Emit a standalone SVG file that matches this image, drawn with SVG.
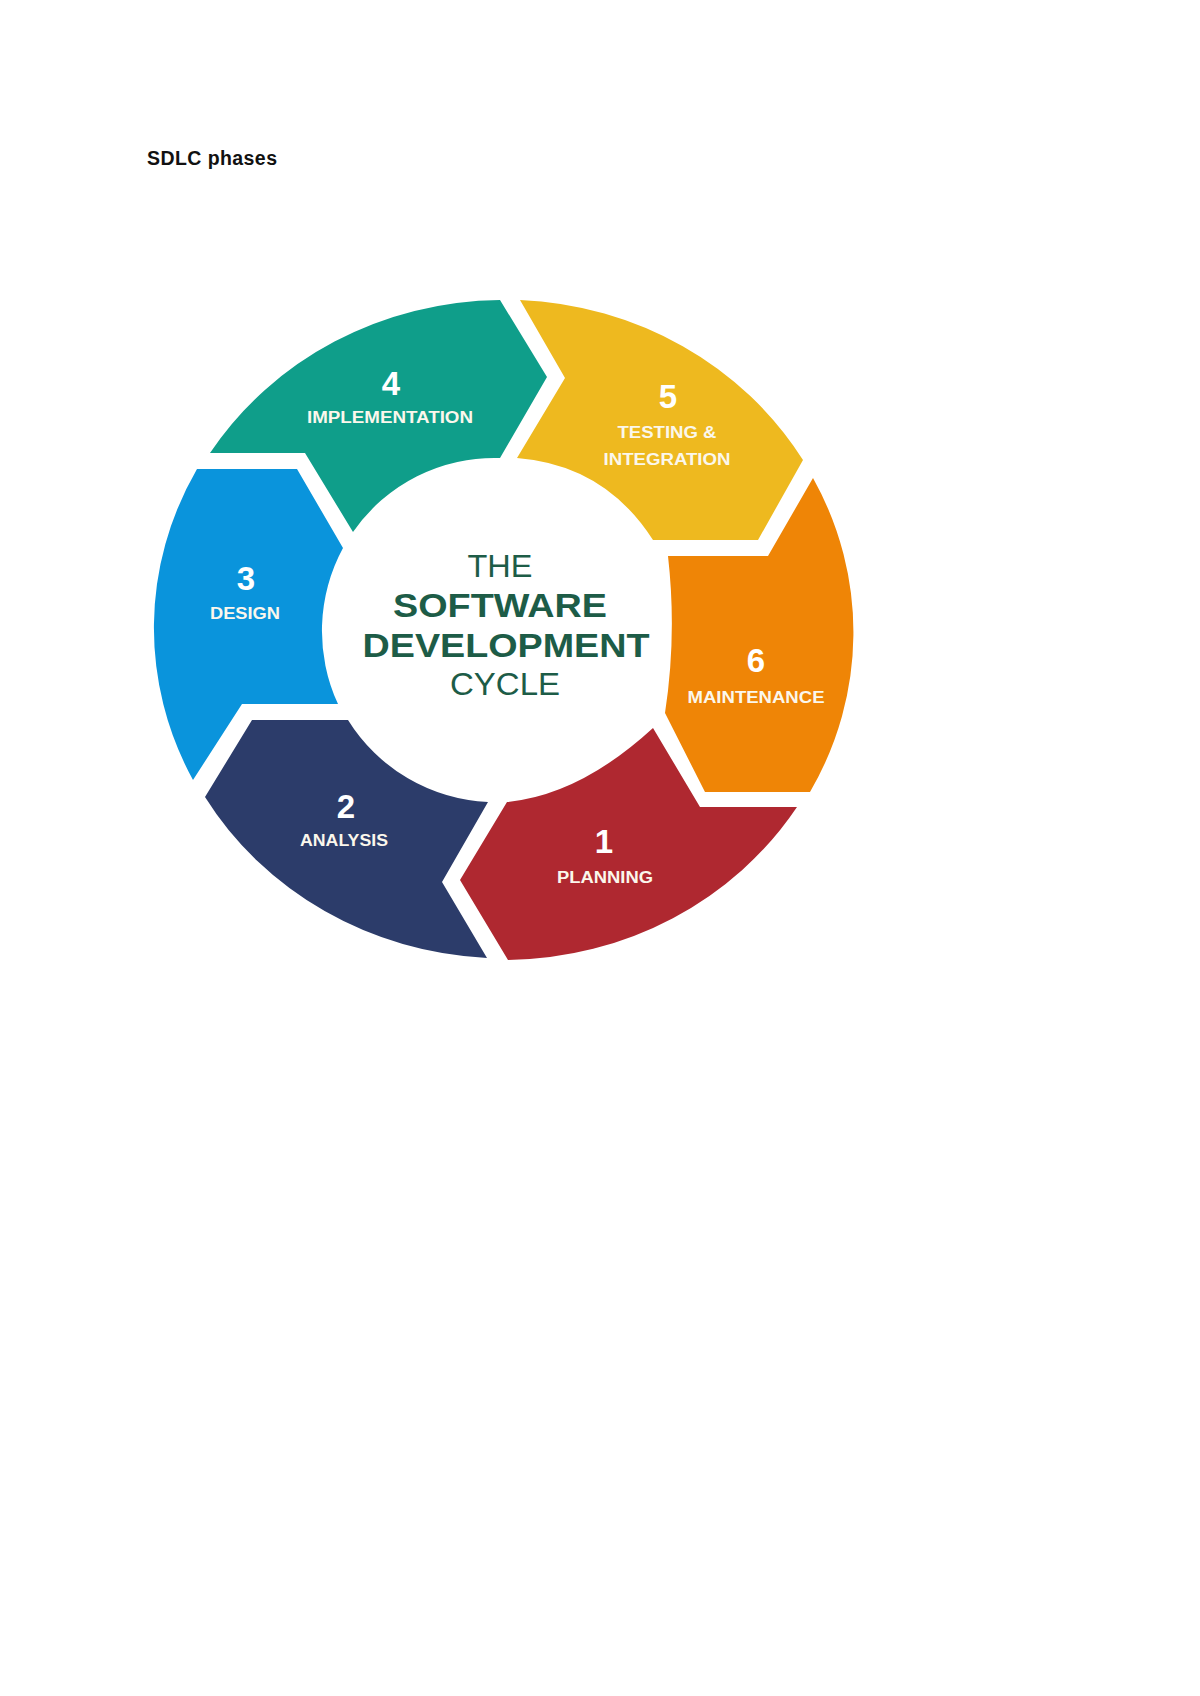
<svg xmlns="http://www.w3.org/2000/svg" width="1200" height="1696" viewBox="0 0 1200 1696">
<style>
.num{font-family:"Liberation Sans",Arial,sans-serif;font-weight:bold;font-size:33px;fill:#ffffff;text-anchor:middle}
.lbl{font-family:"Liberation Sans",Arial,sans-serif;font-weight:bold;font-size:16px;fill:#fbf7ec;text-anchor:middle}
.ctr{font-family:"Liberation Sans",Arial,sans-serif;fill:#1d5c47;text-anchor:middle}
</style>
<rect width="1200" height="1696" fill="#ffffff"/>
<text x="147" y="165" font-family="Liberation Sans, Arial, sans-serif" font-weight="bold" font-size="19.5" fill="#111111" textLength="130" lengthAdjust="spacing">SDLC phases</text>

<g id="node-planning">
<path d="M797,807 A348,330 0 0,1 508,960 L460,880 L507,802 Q580,795 653,728 L700,807 Z" fill="#af2830"/>
<text class="num" x="604" y="853">1</text>
<text class="lbl" x="605" y="883" textLength="96" lengthAdjust="spacingAndGlyphs">PLANNING</text>
</g>
<g id="node-analysis">
<path d="M487,958 A348,330 0 0,1 205,797 L252,720 L348,720 A174,174 0 0,0 488,802 L442,882 Z" fill="#2c3c6a"/>
<text class="num" x="346" y="818">2</text>
<text class="lbl" x="344" y="846" textLength="88" lengthAdjust="spacingAndGlyphs">ANALYSIS</text>
</g>
<g id="node-design">
<path d="M193,780 A348,330 0 0,1 197,469 L297,469 L343,548 A174,174 0 0,0 338,704 L242,704 Z" fill="#0a94dc"/>
<text class="num" x="246" y="590">3</text>
<text class="lbl" x="245" y="619" textLength="70" lengthAdjust="spacingAndGlyphs">DESIGN</text>
</g>
<g id="node-implementation">
<path d="M210,453 A348,330 0 0,1 500,300 L547,377 L500,458 A172,172 0 0,0 353,532 L305,453 Z" fill="#0f9e8a"/>
<text class="num" x="391" y="395">4</text>
<text class="lbl" x="390" y="423" textLength="166" lengthAdjust="spacingAndGlyphs">IMPLEMENTATION</text>
</g>
<g id="node-testing">
<path d="M520,300 A348,330 0 0,1 803,460 L758,540 L653,540 Q605,465 517,458 L565,378 Z" fill="#eeb91f"/>
<text class="num" x="668" y="408">5</text>
<text class="lbl" x="667" y="438" textLength="99" lengthAdjust="spacingAndGlyphs">TESTING &amp;</text>
<text class="lbl" x="667" y="465" textLength="127" lengthAdjust="spacingAndGlyphs">INTEGRATION</text>
</g>
<g id="node-maintenance">
<path d="M813,478 A348,330 0 0,1 810,792 L705,792 L665,713 Q677,635 668,556 L768,556 Z" fill="#ef8506"/>
<text class="num" x="756" y="672">6</text>
<text class="lbl" x="756" y="703" textLength="137" lengthAdjust="spacingAndGlyphs">MAINTENANCE</text>
</g>

<g id="node-center">
<text class="ctr" x="500" y="577" font-size="32" textLength="65" lengthAdjust="spacingAndGlyphs">THE</text>
<text class="ctr" x="500" y="617" font-size="34" font-weight="bold" textLength="214" lengthAdjust="spacingAndGlyphs">SOFTWARE</text>
<text class="ctr" x="506" y="657" font-size="34" font-weight="bold" textLength="287" lengthAdjust="spacingAndGlyphs">DEVELOPMENT</text>
<text class="ctr" x="505" y="695" font-size="32" textLength="110" lengthAdjust="spacingAndGlyphs">CYCLE</text>
</g>

<g id="connectors"></g>
</svg>
